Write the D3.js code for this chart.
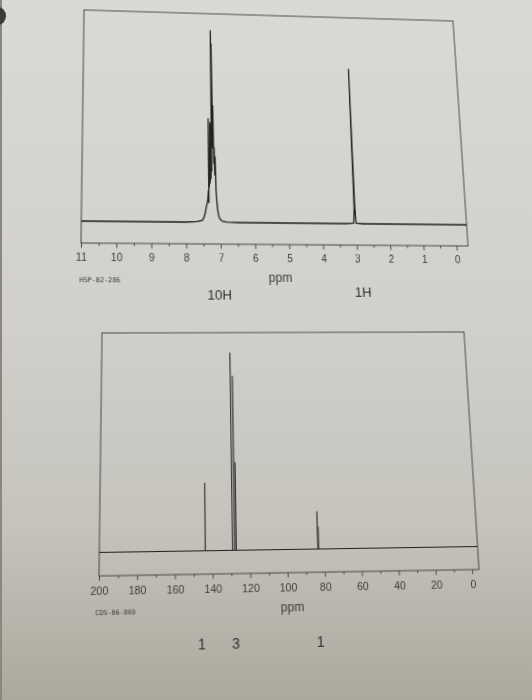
<!DOCTYPE html>
<html>
<head>
<meta charset="utf-8">
<script src="https://cdn.jsdelivr.net/npm/d3@7"></script>
<style>
html, body { margin:0; padding:0; width:532px; height:700px; overflow:hidden; background:#d0cfcb; }
.layer { position:absolute; left:0; top:0; transform-origin:0 0; }
</style>
</head>
<body>
<script>
//dims
const width = 532, height = 700;

// 1H spectrum trace, [ppm, relative intensity]
const hTrace = [
  [11.0,0],[10.0,0],[9.0,0],[8.0,0],[7.67,0.3],[7.52,1],[7.47,2.5],[7.43,5],[7.40,8],[7.37,10],
  [7.35,12],[7.335,16],[7.325,10],[7.315,53],[7.305,18],[7.29,26],[7.28,20],[7.265,51],[7.255,22],
  [7.24,32],[7.23,26],[7.215,100],[7.208,40],[7.198,93],[7.188,38],[7.175,60],[7.165,30],[7.15,38],
  [7.14,24],[7.125,33],[7.11,16],[7.09,10],[7.07,6],[7.04,3],[7.0,1.5],[6.94,0.6],[6.82,0.2],
  [6.5,0],[5.0,0],[3.3,0],[3.06,0.3],[3.03,8],[3.02,81],[3.01,9],[2.99,0.3],[2.8,0],[1.0,0],[-0.35,0]
];
const hTicks = [11,10,9,8,7,6,5,4,3,2,1,0];
const hMinor = [10.5,9.5,8.5,7.5,6.5,5.5,4.5,3.5,2.5,1.5,0.5];
const hIntegrals = ['10H','1H'];
const hIntegralPpm = [7.05, 2.87];
const hCode = 'HSP-02-286';

// 13C peaks, [ppm, relative height]
const cPeaks = [[143.8,33.4],[129.2,100],[128.0,87.7],[127.2,43.5],[83.3,18.6],[82.9,11]];
const cTicks = [200,180,160,140,120,100,80,60,40,20,0];
const cMinor = [190,170,150,130,110,90,70,50,30,10];
const cIntegrals = ['1','3','1'];
const cIntegralPpm = [146, 128.2, 83.4];
const cCode = 'CDS-06-869';

// the page was photographed at an angle: map a flat frame onto the photo corners
function homography(src, dst){
  const A = [], b = [];
  src.forEach(([x,y],i) => {
    const [u,v] = dst[i];
    A.push([x,y,1,0,0,0,-u*x,-u*y]); b.push(u);
    A.push([0,0,0,x,y,1,-v*x,-v*y]); b.push(v);
  });
  for (let c = 0; c < 8; c++){
    let p = c;
    for (let r = c+1; r < 8; r++) if (Math.abs(A[r][c]) > Math.abs(A[p][c])) p = r;
    [A[c],A[p]] = [A[p],A[c]]; [b[c],b[p]] = [b[p],b[c]];
    for (let r = 0; r < 8; r++){
      if (r === c) continue;
      const f = A[r][c]/A[c][c];
      for (let k = c; k < 8; k++) A[r][k] -= f*A[c][k];
      b[r] -= f*b[c];
    }
  }
  const h = b.map((v,i) => v/A[i][i]);
  return `matrix3d(${h[0]},${h[3]},0,${h[6]},${h[1]},${h[4]},0,${h[7]},0,0,1,0,${h[2]},${h[5]},0,1)`;
}
const corners = box => [[box.left,box.top],[box.right,box.top],[box.right,box.bottom],[box.left,box.bottom]];

//bkg: photo of paper, darker towards the bottom
const bkg = d3.select('body').append('svg')
  .attr('class','layer').attr('width',width).attr('height',height);
const grad = bkg.append('defs').append('linearGradient')
  .attr('id','paper').attr('x1',0).attr('y1',0).attr('x2',0).attr('y2',1);
[[0,'#d9d9d5'],[0.45,'#d1d0cc'],[0.75,'#c5c3bc'],[1,'#aca89d']].forEach(s =>
  grad.append('stop').attr('offset',s[0]).attr('stop-color',s[1]));
bkg.append('rect').attr('width',width).attr('height',height).attr('fill','url(#paper)');
bkg.append('rect').attr('width',2).attr('height',height).attr('fill','#8a877f');
bkg.append('ellipse').attr('cx',-2).attr('cy',16).attr('rx',8).attr('ry',9).attr('fill','#3b3b3b');

const ink = '#222', frameInk = '#4a4a4a', textInk = '#3c3c3c';

function styleAxis(g, size){
  g.select('.domain').remove();
  g.selectAll('.tick line').attr('stroke',frameInk);
  g.selectAll('.tick text').attr('fill',textInk)
    .attr('font-family','"Liberation Sans", Arial, sans-serif').attr('font-size',size);
}

//---------------------------------------------------------------- 1H plot
const hBox = {left:82, top:12, right:467, bottom:245};
const svgH = d3.select('body').append('svg')
  .attr('class','layer').attr('width',width).attr('height',height)
  .style('transform', homography(corners(hBox), [[84,10],[453,21],[468,246],[81,243]]));

const hx = d3.scaleLinear().domain([11,-0.35]).range([hBox.left,hBox.right]);
const hy = d3.scaleLinear().domain([0,100]).range([224,30]);

svgH.append('rect')
  .attr('x',hBox.left).attr('y',hBox.top)
  .attr('width',hBox.right-hBox.left).attr('height',hBox.bottom-hBox.top)
  .attr('fill','none').attr('stroke',frameInk).attr('stroke-width',1);

svgH.append('g').attr('transform',`translate(0,${hBox.bottom})`)
  .call(d3.axisBottom(hx).tickValues(hTicks).tickSize(4.5).tickPadding(5).tickFormat(d3.format('d')))
  .call(g => styleAxis(g, 10));
svgH.append('g').attr('transform',`translate(0,${hBox.bottom})`)
  .call(d3.axisBottom(hx).tickValues(hMinor).tickSize(2.5).tickFormat(''))
  .call(g => styleAxis(g, 10));

svgH.append('path').datum(hTrace)
  .attr('d', d3.line().x(d => hx(d[0])).y(d => hy(d[1])))
  .attr('fill','none').attr('stroke',ink).attr('stroke-width',1.3).attr('stroke-linejoin','round');

svgH.append('text').text('ppm')
  .attr('x',276).attr('y',281.5).attr('text-anchor','middle')
  .attr('font-family','"Liberation Sans", Arial, sans-serif').attr('font-size',12).attr('fill',textInk);
svgH.append('text').text(hCode)
  .attr('x',81).attr('y',282)
  .attr('font-family','"DejaVu Sans Mono", monospace').attr('font-size',6.5).attr('fill',textInk);
svgH.selectAll('.integral').data(hIntegrals).enter().append('text')
  .attr('class','integral').text(d => d)
  .attr('x',(d,i) => hx(hIntegralPpm[i])).attr('y',(d,i) => i === 0 ? 298 : 295.5)
  .attr('text-anchor','middle')
  .attr('font-family','"Liberation Sans", Arial, sans-serif').attr('font-size',13).attr('fill','#2e2e2e');

//---------------------------------------------------------------- 13C plot
const cBox = {left:100, top:333, right:479, bottom:576};
const svgC = d3.select('body').append('svg')
  .attr('class','layer').attr('width',width).attr('height',height)
  .style('transform', homography(corners(cBox), [[102,333],[464,332],[479,569.5],[99,576]]));

const cx = d3.scaleLinear().domain([200,-3.8]).range([cBox.left,cBox.right]);
const cy = d3.scaleLinear().domain([0,100]).range([553.5,354]);

svgC.append('rect')
  .attr('x',cBox.left).attr('y',cBox.top)
  .attr('width',cBox.right-cBox.left).attr('height',cBox.bottom-cBox.top)
  .attr('fill','none').attr('stroke',frameInk).attr('stroke-width',1);

svgC.append('g').attr('transform',`translate(0,${cBox.bottom})`)
  .call(d3.axisBottom(cx).tickValues(cTicks).tickSize(4.5).tickPadding(6.5).tickFormat(d3.format('d')))
  .call(g => styleAxis(g, 10.5));
svgC.append('g').attr('transform',`translate(0,${cBox.bottom})`)
  .call(d3.axisBottom(cx).tickValues(cMinor).tickSize(2.5).tickFormat(''))
  .call(g => styleAxis(g, 10));

// baseline across the whole frame
svgC.append('line')
  .attr('x1',cx(200)).attr('x2',cx(-3.8)).attr('y1',cy(0)).attr('y2',cy(0))
  .attr('stroke',ink).attr('stroke-width',1.2);
// stick peaks
svgC.selectAll('.peak').data(cPeaks).enter().append('line')
  .attr('class','peak')
  .attr('x1',d => cx(d[0])).attr('x2',d => cx(d[0]))
  .attr('y1',cy(0)).attr('y2',d => cy(d[1]))
  .attr('stroke','#333').attr('stroke-width',1.2);

svgC.append('text').text('ppm')
  .attr('x',290).attr('y',613).attr('text-anchor','middle')
  .attr('font-family','"Liberation Sans", Arial, sans-serif').attr('font-size',12).attr('fill',textInk);
svgC.append('text').text(cCode)
  .attr('x',97).attr('y',613)
  .attr('font-family','"DejaVu Sans Mono", monospace').attr('font-size',6.5).attr('fill',textInk);
svgC.selectAll('.integral').data(cIntegrals).enter().append('text')
  .attr('class','integral').text(d => d)
  .attr('x',(d,i) => cx(cIntegralPpm[i])).attr('y',647)
  .attr('text-anchor','middle')
  .attr('font-family','"Liberation Sans", Arial, sans-serif').attr('font-size',14).attr('fill','#2e2e2e');
</script>
</body>
</html>
